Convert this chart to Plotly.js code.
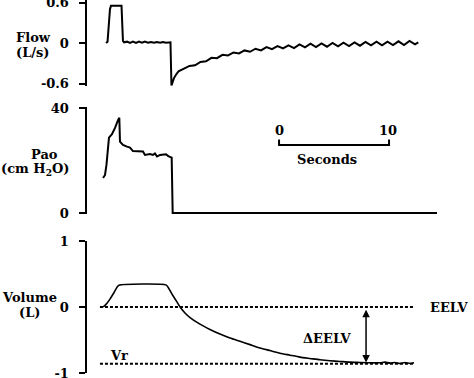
<!DOCTYPE html>
<html>
<head>
<meta charset="utf-8">
<script src="https://cdn.plot.ly/plotly-3.0.1.min.js"></script>
<style>html,body{margin:0;padding:0;background:#fff}#chart{width:474px;height:378px}</style>
</head>
<body>
<div id="chart"></div>
<script>
// Time in seconds
var flowTime = [-0.09,0.05,0.27,0.36,1.32,1.45,1.55,1.82,2.09,2.36,2.64,2.91,3.18,3.45,3.73,4.0,4.27,4.55,4.82,5.09,5.36,5.77,5.86,5.95,6.09,6.27,
  6.5,7.0,7.5,8.0,8.5,9.0,9.5,10.0,10.5,11.0,11.5,12.0,12.5,13.0,13.5,14.0,14.5,15.0,15.5,16.0,16.5,17.0,17.5,18.0,18.5,19.0,19.5,20.0,
  20.5,21.0,21.5,22.0,22.5,23.0,23.5,24.0,24.5,25.0,25.5,26.0,26.5,27.0,27.5,28.0,28.3];
var flowValues = [0,0.02,0.50,0.55,0.55,0.03,0.01,0.02,0.0,0.02,0.0,0.02,0.005,0.02,0.005,0.015,0.005,0.015,0.005,0.015,0.005,0.01,-0.63,-0.57,-0.52,-0.47,
  -0.42,-0.38,-0.34,-0.33,-0.28,-0.27,-0.22,-0.225,-0.175,-0.185,-0.14,-0.155,-0.11,-0.13,-0.085,-0.11,-0.06,-0.09,-0.045,-0.08,-0.035,-0.075,-0.02,-0.065,
  -0.01,-0.06,-0.005,-0.055,0.0,-0.05,0.005,-0.045,0.01,-0.04,0.015,-0.035,0.02,-0.035,0.02,-0.03,0.025,-0.03,0.03,-0.02,0.01];

var paoTime = [-0.36,-0.18,-0.05,0.09,0.18,0.45,0.73,1.0,1.12,1.18,1.45,1.82,2.09,2.36,2.82,3.27,3.45,3.91,4.18,4.36,4.55,4.82,5.36,5.57,5.88,5.97,30.0];
var paoValues = [13.3,14.5,18.3,25.9,28.7,30.0,32.4,35.4,36.3,27.2,25.9,25.3,24.9,23.6,23.4,23.4,22.1,22.5,22.1,22.7,21.5,22.1,22.4,21.7,21.1,0,0];

var volTime = [-0.36,-0.09,0.27,0.64,0.91,1.09,5.36,5.55,5.73,6.0,6.27,6.64,7.09,7.55,8.45,9.36,10.27,11.18,12.09,13.0,13.91,14.82,15.73,16.64,17.55,18.45,
  19.36,20.27,21.18,22.09,23.0,23.91,24.82,25.27,25.73,26.18,26.64,27.09,27.55,27.91];
var volValues = [0,0.04,0.12,0.22,0.30,0.33,0.335,0.30,0.25,0.17,0.10,0.0,-0.09,-0.16,-0.26,-0.34,-0.41,-0.47,-0.52,-0.57,-0.62,-0.66,-0.70,-0.73,-0.76,-0.78,
  -0.80,-0.815,-0.825,-0.835,-0.84,-0.845,-0.845,-0.835,-0.85,-0.84,-0.855,-0.84,-0.855,-0.845];

var refLineTime = [-0.64, 27.9];
var eelvLevel = [0, 0];
var vrLevel = [-0.86, -0.86];

var flowTicks = [0.6, 0, -0.6];
var flowTickText = ['0.6', '0', '-0.6'];
var paoTicks = [40, 0];
var paoTickText = ['40', '0'];
var volTicks = [1, 0, -1];
var volTickText = ['1', '0', '-1'];

var scaleBar = [15.64, 25.64];
var arrowTime = 23.55;

var FONT = {family: 'DejaVu Serif', size: 13, color: '#000', weight: 'bold'};
var H = 378;
function py(px) { return 1 - px / H; }
function pxx(px) { return (px - 87) / 387; }

var traces = [
  {x: flowTime, y: flowValues, xaxis: 'x', yaxis: 'y', mode: 'lines', line: {color: '#000', width: 2}, hoverinfo: 'skip'},
  {x: paoTime, y: paoValues, xaxis: 'x', yaxis: 'y2', mode: 'lines', line: {color: '#000', width: 2}, hoverinfo: 'skip'},
  {x: volTime, y: volValues, xaxis: 'x', yaxis: 'y3', mode: 'lines', line: {color: '#000', width: 1.6, shape: 'spline', smoothing: 0.6}, hoverinfo: 'skip'},
  {x: refLineTime, y: eelvLevel, xaxis: 'x', yaxis: 'y3', mode: 'lines', line: {color: '#000', width: 2, dash: '3px,2px'}, hoverinfo: 'skip'},
  {x: refLineTime, y: vrLevel, xaxis: 'x', yaxis: 'y3', mode: 'lines', line: {color: '#000', width: 2, dash: '3px,2px'}, hoverinfo: 'skip'}
];

function yax(domain, range, tv, tt) {
  return {domain: domain, range: range, anchor: 'x', showgrid: false, zeroline: false,
    showline: true, linecolor: '#000', linewidth: 2.5, ticks: 'outside', ticklen: 6, tickwidth: 2,
    tickcolor: '#000', tickvals: tv, ticktext: tt, tickfont: FONT, ticklabelstandoff: 7,
    ticklabeloverflow: 'allow', fixedrange: true};
}

var layout = {
  width: 474, height: 378,
  margin: {l: 87, r: 0, t: 0, b: 0},
  paper_bgcolor: '#fff', plot_bgcolor: '#fff',
  showlegend: false,
  xaxis: {range: [-1.818, 33.364], visible: false, showgrid: false, zeroline: false, fixedrange: true},
  yaxis: yax([py(86), 1], [-0.637, 0.637], flowTicks, flowTickText),
  yaxis2: yax([py(214), py(107)], [-0.381, 40.381], paoTicks, paoTickText),
  yaxis3: yax([py(373), py(241)], [-1, 1], volTicks, volTickText),
  shapes: [
    {type: 'line', xref: 'x', yref: 'paper', x0: scaleBar[0], x1: scaleBar[1], y0: py(145), y1: py(145), line: {color: '#000', width: 2}},
    {type: 'line', xref: 'x', yref: 'paper', x0: scaleBar[0], x1: scaleBar[0], y0: py(146), y1: py(139.5), line: {color: '#000', width: 2}},
    {type: 'line', xref: 'x', yref: 'paper', x0: scaleBar[1], x1: scaleBar[1], y0: py(146), y1: py(139.5), line: {color: '#000', width: 2}}
  ],
  annotations: [
    {xref: 'paper', yref: 'paper', x: pxx(33), y: py(37), text: 'Flow', showarrow: false, font: FONT, xanchor: 'center', yanchor: 'middle'},
    {xref: 'paper', yref: 'paper', x: pxx(33), y: py(52), text: '(L/s)', showarrow: false, font: FONT, xanchor: 'center', yanchor: 'middle'},
    {xref: 'paper', yref: 'paper', x: pxx(44.5), y: py(155), text: 'Pao', showarrow: false, font: FONT, xanchor: 'center', yanchor: 'middle'},
    {xref: 'paper', yref: 'paper', x: pxx(-1), y: py(169), text: '(cm H<sub>2</sub>O)', showarrow: false, font: FONT, xanchor: 'left', yanchor: 'middle'},
    {xref: 'paper', yref: 'paper', x: pxx(29.5), y: py(297), text: 'Volume', showarrow: false, font: FONT, xanchor: 'center', yanchor: 'middle'},
    {xref: 'paper', yref: 'paper', x: pxx(29.5), y: py(312), text: '(L)', showarrow: false, font: FONT, xanchor: 'center', yanchor: 'middle'},
    {xref: 'x', yref: 'paper', x: scaleBar[0] + 0.08, y: py(130), text: '0', showarrow: false, font: FONT, xanchor: 'center', yanchor: 'middle'},
    {xref: 'x', yref: 'paper', x: scaleBar[1] - 0.08, y: py(130), text: '10', showarrow: false, font: FONT, xanchor: 'center', yanchor: 'middle'},
    {xref: 'x', yref: 'paper', x: 20.0, y: py(159), text: 'Seconds', showarrow: false, font: FONT, xanchor: 'center', yanchor: 'middle'},
    {xref: 'x', yref: 'y3', x: 31.1, y: 0, text: 'EELV', showarrow: false, font: FONT, xanchor: 'center', yanchor: 'middle'},
    {xref: 'x', yref: 'y3', x: 20.0, y: -0.47, text: 'ΔEELV', showarrow: false, font: FONT, xanchor: 'center', yanchor: 'middle'},
    {xref: 'x', yref: 'y3', x: 1.09, y: -0.74, text: 'Vr', showarrow: false, font: FONT, xanchor: 'center', yanchor: 'middle'},
    {xref: 'x', yref: 'y3', axref: 'x', ayref: 'y3', x: arrowTime, y: vrLevel[0] + 0.02, ax: arrowTime, ay: eelvLevel[0] - 0.02,
      text: '', showarrow: true, arrowhead: 2, arrowside: 'end+start', arrowsize: 1, arrowwidth: 1.5, arrowcolor: '#000', standoff: 0, startstandoff: 0}
  ]
};

Plotly.newPlot('chart', traces, layout, {displayModeBar: false, staticPlot: true});
</script>
</body>
</html>
